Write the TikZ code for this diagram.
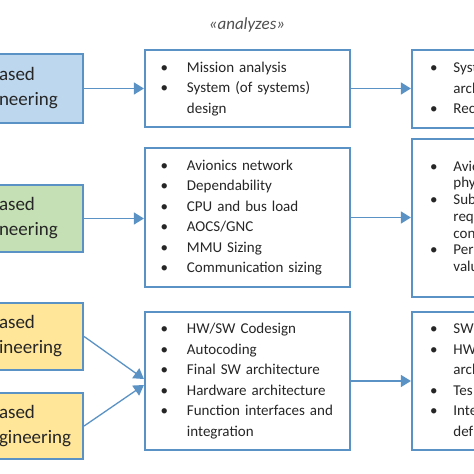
\documentclass[tikz,border=0pt]{standalone}
\usepackage{fontspec}
\setmainfont{Carlito}
\usepackage{tikz}
\usetikzlibrary{arrows.meta,calc}
\definecolor{edge}{HTML}{5B92C5}
\definecolor{ink}{HTML}{262626}
\definecolor{mute}{HTML}{505050}
\definecolor{fblue}{HTML}{BDD7EE}
\definecolor{fgreen}{HTML}{C5E0B4}
\definecolor{fyellow}{HTML}{FFE699}
\newcommand{\blist}[2][19pt]{\begin{tabular}{@{}l@{\hspace{#1}}l@{}}#2\end{tabular}}
\tikzset{
  >={Triangle[length=10pt,width=12pt]},
  box/.style={draw=edge,line width=2.2pt,text=ink,inner sep=0pt},
  lbox/.style={box,minimum width=108pt,text width=60pt,align=left,font=\fontsize{19}{25}\selectfont},
  mbox/.style={box,fill=white,minimum width=205pt,text width=174pt,align=left,font=\fontsize{15}{20.5}\selectfont},
  rbox/.style={box,fill=white,minimum width=120pt,text width=84pt,align=left,font=\fontsize{15}{20.5}\selectfont},
  lab/.style={font=\fontsize{17}{20}\selectfont\itshape,text=mute},
  arr/.style={->,draw=edge,line width=1.3pt},
}
\begin{document}
\begin{tikzpicture}[x=1pt,y=1pt]
\fill[white] (0,0) rectangle (474,474);
\useasboundingbox (0,0) rectangle (474,474);
\clip (0,0) rectangle (474,474);
\node[lab] (ttl) at (247,449) {«analyzes»};
\node[lbox,fill=fblue,minimum height=69pt] (l1) at (29,385.5) {ased\\neering};
\node[lbox,fill=fgreen,minimum height=67pt] (l2) at (29,255.5) {ased\\neering};
\node[lbox,fill=fyellow,minimum height=67pt] (l3) at (29,137.5) {ased\\ineering};
\node[lbox,fill=fyellow,minimum height=66pt] (l4) at (29,48) {ased\\gineering};
\node[mbox,minimum height=77pt] (m1) at (247.5,385.5) {\blist{\textbullet & Mission analysis\\ \textbullet & System (of systems)\\ & design}};
\node[mbox,minimum height=139pt] (m2) at (247.5,256.5) {\blist{\textbullet & Avionics network\\ \textbullet & Dependability\\ \textbullet & CPU and bus load\\ \textbullet & AOCS/GNC\\ \textbullet & MMU Sizing\\ \textbullet & Communication sizing}};
\node[mbox,minimum height=138pt] (m3) at (247.5,93) {\blist{\textbullet & HW/SW Codesign\\ \textbullet & Autocoding\\ \textbullet & Final SW architecture\\ \textbullet & Hardware architecture\\ \textbullet & Function interfaces and\\ & integration}};
\node[rbox,minimum height=78pt] (r1) at (472,385) {\blist[16pt]{\textbullet & Syst\\ & arch\\ \textbullet & Rec}};
\node[rbox,minimum height=158pt,font=\fontsize{15}{16.7}\selectfont] (r2) at (472,256) {\blist[16pt]{\textbullet & Avio\\ & phy\\ \textbullet & Sub\\ & req\\ & con\\ \textbullet & Per\\ & valu}};
\node[rbox,minimum height=138pt] (r3) at (472,93) {\blist[16pt]{\textbullet & SW\\ \textbullet & HW\\ & arch\\ \textbullet & Tes\\ \textbullet & Inte\\ & def}};
\draw[arr] (l1.east) -- (l1.east -| m1.west);
\draw[arr] (m1.east) -- (m1.east -| r1.west);
\draw[arr] (l2.east) -- (l2.east -| m2.west);
\draw[arr] (m2.east) -- (m2.east -| r2.west);
\draw[arr] (l3.east) -- ($(m3.west)+(0,2)$);
\draw[arr] (l4.east) -- ($(m3.west)+(0,-4)$);
\draw[arr] (m3.east) -- (m3.east -| r3.west);
\end{tikzpicture}
\end{document}
